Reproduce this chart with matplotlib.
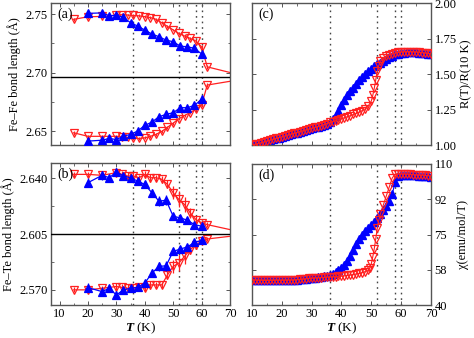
import numpy as np
import matplotlib
matplotlib.use('Agg')
import matplotlib.pyplot as plt
from matplotlib.ticker import MultipleLocator, FixedLocator

plt.rcParams['font.family'] = ['Liberation Serif', 'DejaVu Serif']
plt.rcParams['mathtext.fontset'] = 'custom'
plt.rcParams['mathtext.bf'] = 'Liberation Serif:italic:bold'
plt.rcParams['mathtext.rm'] = 'Liberation Serif'

# ---------------- data ----------------
T_blue = [20, 25, 27.5, 30, 32.5, 35, 37.5, 40, 42.5, 45, 47.5, 50, 52.5, 55, 57.5, 60]
T_red = [15, 20, 25, 30, 32, 34, 36, 38, 40, 42, 44, 46, 48, 50, 52, 54, 56, 58, 60, 62, 72]

fefe_blue_up = [2.7506, 2.7510, 2.7486, 2.7490, 2.7472, 2.7426, 2.7398, 2.7364, 2.7330, 2.7307,
                2.7278, 2.7264, 2.7227, 2.7221, 2.7208, 2.7160]
fefe_blue_lo = [2.6417, 2.6425, 2.6440, 2.6430, 2.6460, 2.6474, 2.6503, 2.6551, 2.6579, 2.6625,
                2.6645, 2.6659, 2.6702, 2.6702, 2.6722, 2.6773]
fefe_red_up = [2.7455, 2.7477, 2.7480, 2.7490, 2.7495, 2.7492, 2.7488, 2.7485, 2.7478, 2.7470,
               2.7455, 2.7425, 2.7395, 2.7365, 2.7335, 2.7313, 2.7293, 2.7270, 2.7220, 2.7050, 2.6990]
fefe_red_lo = [2.6488, 2.6458, 2.6458, 2.6458, 2.6455, 2.6448, 2.6440, 2.6440, 2.6445, 2.6458,
               2.6475, 2.6500, 2.6535, 2.6570, 2.6608, 2.6635, 2.6660, 2.6688, 2.6725, 2.6895, 2.6935]
fefe_blue_err = [0.0015, 0.0015, 0.0012, 0.0012, 0.0012, 0.0012, 0.0012, 0.0012, 0.0012, 0.0012,
                 0.0012, 0.0012, 0.0015, 0.0015, 0.0018, 0.0035]
fefe_red_err = [0.0015, 0.0015, 0.0012, 0.0012, 0.0012, 0.0012, 0.0012, 0.0012, 0.0012, 0.0012,
                0.0012, 0.0012, 0.0012, 0.0012, 0.0015, 0.0015, 0.0015, 0.0015, 0.0015, 0.0015, 0.0]

fete_blue_up = [2.6372, 2.6418, 2.6403, 2.6439, 2.6414, 2.6403, 2.6382, 2.6361, 2.6309, 2.6256,
                2.6262, 2.6162, 2.6151, 2.6137, 2.6109, 2.6099]
fete_blue_lo = [2.5714, 2.5689, 2.5710, 2.5668, 2.5700, 2.5710, 2.5716, 2.5742, 2.5805, 2.5847,
                2.5851, 2.5941, 2.5956, 2.5969, 2.5998, 2.6010]
fete_red_up = [2.6424, 2.6424, 2.6418, 2.6435, 2.6424, 2.6414, 2.6414, 2.6403, 2.6424, 2.6403,
               2.6403, 2.6393, 2.6361, 2.6309, 2.6267, 2.6235, 2.6183, 2.6141, 2.6120, 2.6109, 2.6070]
fete_red_lo = [2.5700, 2.5700, 2.5710, 2.5721, 2.5715, 2.5710, 2.5710, 2.5721, 2.5710, 2.5731,
               2.5731, 2.5731, 2.5794, 2.5847, 2.5868, 2.5910, 2.5952, 2.5983, 2.6004, 2.6019, 2.6040]
fete_blue_err = [0.0030, 0.0030, 0.0020, 0.0025, 0.0020, 0.0020, 0.0020, 0.0020, 0.0025, 0.0030,
                 0.0030, 0.0020, 0.0020, 0.0015, 0.0015, 0.0015]
fete_red_err = [0.0015, 0.0015, 0.0015, 0.0020, 0.0020, 0.0025, 0.0025, 0.0020, 0.0020, 0.0025,
                0.0020, 0.0020, 0.0025, 0.0040, 0.0050, 0.0050, 0.0030, 0.0025, 0.0020, 0.0015, 0.0]

# resistance (c) and susceptibility (d), dense scans
T_scan = np.arange(10, 71, 1)
T_jump_c = [50.5, 51, 51.5, 52, 52.5, 53]
T_red_c = np.concatenate([np.arange(10, 51, 1), T_jump_c, np.arange(54, 71, 1)])
R_blue = [1.000, 1.005, 1.010, 1.016, 1.022, 1.028, 1.034, 1.040, 1.046, 1.052,
          1.058, 1.064, 1.070, 1.076, 1.082, 1.088, 1.094, 1.100, 1.106, 1.112,
          1.118, 1.124, 1.130, 1.136, 1.143, 1.151, 1.160, 1.180, 1.205, 1.240,
          1.280, 1.315, 1.350, 1.380, 1.405, 1.430, 1.455, 1.478, 1.500, 1.520,
          1.538, 1.554, 1.568, 1.580, 1.595, 1.608, 1.620, 1.630, 1.638, 1.643,
          1.647, 1.650, 1.652, 1.653, 1.653, 1.652, 1.650, 1.648, 1.646, 1.644, 1.642]
R_red = [1.000, 1.005, 1.010, 1.016, 1.022, 1.028, 1.034, 1.040, 1.046, 1.052,
         1.058, 1.064, 1.070, 1.076, 1.082, 1.088, 1.094, 1.100, 1.106, 1.112,
         1.118, 1.124, 1.130, 1.136, 1.143, 1.151, 1.160, 1.165, 1.172, 1.178,
         1.185, 1.192, 1.200, 1.207, 1.215, 1.223, 1.232, 1.243, 1.256, 1.275, 1.310,
         1.350, 1.400, 1.460, 1.520, 1.560, 1.590,
         1.610, 1.625, 1.635, 1.642, 1.648, 1.652, 1.655, 1.657, 1.658, 1.658,
         1.657, 1.655, 1.653, 1.650, 1.648, 1.645, 1.642]

T_jump_d = [49.5, 50, 50.5, 51, 51.5, 52, 52.5, 53]
T_red_d = np.concatenate([np.arange(10, 50, 1), T_jump_d, np.arange(54, 71, 1)])
chi_blue = [52.5, 52.4, 52.3, 52.3, 52.2, 52.2, 52.2, 52.2, 52.3, 52.3,
            52.3, 52.3, 52.4, 52.4, 52.5, 52.6, 52.7, 52.8, 53.0, 53.2,
            53.4, 53.6, 53.8, 54.0, 54.2, 54.6, 55.0, 55.5, 56.3, 57.3,
            58.5, 60.0, 62.0, 64.5, 67.5, 70.5, 73.0, 75.0, 76.5, 78.0,
            79.5, 81.0, 83.0, 85.0, 87.0, 89.0, 91.5, 95.0, 101.0, 104.0,
            104.5, 104.6, 104.6, 104.5, 104.4, 104.3, 104.2, 104.1, 104.0, 103.8, 103.6]
chi_red = [52.5, 52.4, 52.3, 52.3, 52.2, 52.2, 52.2, 52.2, 52.3, 52.3,
           52.3, 52.3, 52.4, 52.4, 52.5, 52.6, 52.7, 52.8, 53.0, 53.2,
           53.3, 53.4, 53.5, 53.6, 53.7, 53.8, 53.9, 54.0, 54.1, 54.2,
           54.3, 54.5, 54.7, 54.9, 55.1, 55.4, 55.7, 56.1, 56.6, 57.5,
           58.5, 60.5, 64.0, 68.0, 73.0, 78.0, 82.0, 85.0,
           89.5, 94.0, 98.5, 103.0, 105.0, 105.0, 105.0, 105.0, 104.9, 104.8,
           104.7, 104.6, 104.5, 104.4, 104.3, 104.2, 104.0]

vlines_T = [36, 52, 58, 60]

BLUE = '#0000ff'
RED = '#ff2020'
FRAME = '#555555'
FS = 9

fig = plt.figure(figsize=(4.74, 3.38), dpi=100)
ax_a = fig.add_axes([0.1076, 0.571, 0.3776, 0.420])
ax_b = fig.add_axes([0.1076, 0.0976, 0.3776, 0.420])
ax_c = fig.add_axes([0.5316, 0.571, 0.3776, 0.420])
ax_d = fig.add_axes([0.5316, 0.0976, 0.3776, 0.4172])


def style(ax, xlim, right=False, xlabels=False):
    ax.set_xlim(*xlim)
    ax.xaxis.set_major_locator(MultipleLocator(10))
    ax.xaxis.set_minor_locator(MultipleLocator(5))
    ax.tick_params(which='both', direction='in', top=True, bottom=True, left=True, right=True,
                   labelsize=FS, colors='black', pad=2.5)
    ax.tick_params(which='major', length=3, width=0.7, color=FRAME)
    ax.tick_params(which='minor', length=1.8, width=0.6, color=FRAME)
    if right:
        ax.tick_params(labelleft=False, labelright=True)
        ax.yaxis.set_label_position('right')
    if not xlabels:
        ax.tick_params(labelbottom=False)
    for s in ax.spines.values():
        s.set_color(FRAME)
        s.set_linewidth(1.0)
    for t in vlines_T:
        ax.axvline(t, color='#444444', ls=(0, (1.2, 2.8)), lw=1.0, zorder=1)


def bond_branch(ax, T, v, e, marker, color, filled):
    ax.errorbar(T, v, yerr=e, fmt=marker + '-', color=color, mfc=color if filled else 'none',
                mec=color, ms=5.5 if filled else 6, lw=0.9, elinewidth=0.9, capsize=0,
                mew=0.9, zorder=3 if filled else 2)


# (a)
style(ax_a, (7, 70))
bond_branch(ax_a, T_red, fefe_red_up, fefe_red_err, 'v', RED, False)
bond_branch(ax_a, T_red, fefe_red_lo, fefe_red_err, 'v', RED, False)
bond_branch(ax_a, T_blue, fefe_blue_up, fefe_blue_err, '^', BLUE, True)
bond_branch(ax_a, T_blue, fefe_blue_lo, fefe_blue_err, '^', BLUE, True)
ax_a.axhline(2.6965, color='black', lw=1.0, zorder=4)
ax_a.set_ylim(2.6384, 2.7594)
ax_a.yaxis.set_major_locator(FixedLocator([2.65, 2.70, 2.75]))
ax_a.yaxis.set_minor_locator(FixedLocator([2.675, 2.725]))
ax_a.yaxis.set_major_formatter(plt.FuncFormatter(lambda v, p: f'{v:.2f}'))
ax_a.set_ylabel('Fe–Fe bond length (Å)', fontsize=FS, labelpad=3)
ax_a.text(0.035, 0.92, '(a)', transform=ax_a.transAxes, fontsize=10, va='center', zorder=6)

# (b)
style(ax_b, (7, 70), xlabels=True)
bond_branch(ax_b, T_red, fete_red_up, fete_red_err, 'v', RED, False)
bond_branch(ax_b, T_red, fete_red_lo, fete_red_err, 'v', RED, False)
bond_branch(ax_b, T_blue, fete_blue_up, fete_blue_err, '^', BLUE, True)
bond_branch(ax_b, T_blue, fete_blue_lo, fete_blue_err, '^', BLUE, True)
ax_b.axhline(2.605, color='black', lw=1.0, zorder=4)
ax_b.set_ylim(2.5605, 2.6495)
ax_b.yaxis.set_major_locator(FixedLocator([2.570, 2.605, 2.640]))
ax_b.yaxis.set_minor_locator(FixedLocator([2.5875, 2.6225]))
ax_b.yaxis.set_major_formatter(plt.FuncFormatter(lambda v, p: f'{v:.3f}'))
ax_b.set_ylabel('Fe–Te bond length (Å)', fontsize=FS, labelpad=3)
ax_b.set_xlabel(r'$\mathbf{T}$ (K)', fontsize=FS + 0.5, labelpad=0)
ax_b.text(0.035, 0.92, '(b)', transform=ax_b.transAxes, fontsize=10, va='center', zorder=6)

# (c)
style(ax_c, (10, 70), right=True)
ax_c.plot(T_scan, R_blue, '^-', color=BLUE, mfc=BLUE, mec=BLUE, ms=5.5, lw=0.8, zorder=2)
ax_c.plot(T_red_c, R_red, 'v-', color=RED, mfc='none', mec=RED, ms=6, lw=0.8, mew=0.9, zorder=3)
ax_c.set_ylim(1.0, 2.0)
ax_c.yaxis.set_major_locator(MultipleLocator(0.25))
ax_c.yaxis.set_minor_locator(FixedLocator([]))
ax_c.yaxis.set_major_formatter(plt.FuncFormatter(lambda v, p: f'{v:.2f}'))
ax_c.set_ylabel('R(T)/R(10 K)', fontsize=FS, labelpad=3)
ax_c.text(0.035, 0.92, '(c)', transform=ax_c.transAxes, fontsize=10, va='center', zorder=6)

# (d)
style(ax_d, (10, 70), right=True, xlabels=True)
ax_d.plot(T_scan, chi_blue, '^-', color=BLUE, mfc=BLUE, mec=BLUE, ms=5.5, lw=0.8, zorder=2)
ax_d.plot(T_red_d, chi_red, 'v-', color=RED, mfc='none', mec=RED, ms=6, lw=0.8, mew=0.9, zorder=3)
ax_d.set_ylim(40, 110)
ax_d.yaxis.set_major_locator(FixedLocator([40, 57.5, 75, 92.5, 110]))
ax_d.yaxis.set_minor_locator(FixedLocator([]))
ax_d.yaxis.set_major_formatter(plt.FixedFormatter(['40', '58', '75', '92', '110']))
ax_d.set_ylabel('χ(emu/mol/T)', fontsize=FS, labelpad=3)
ax_d.set_xlabel(r'$\mathbf{T}$ (K)', fontsize=FS + 0.5, labelpad=0)
ax_d.text(0.035, 0.92, '(d)', transform=ax_d.transAxes, fontsize=10, va='center', zorder=6)

fig.savefig('out.png', dpi=100)
